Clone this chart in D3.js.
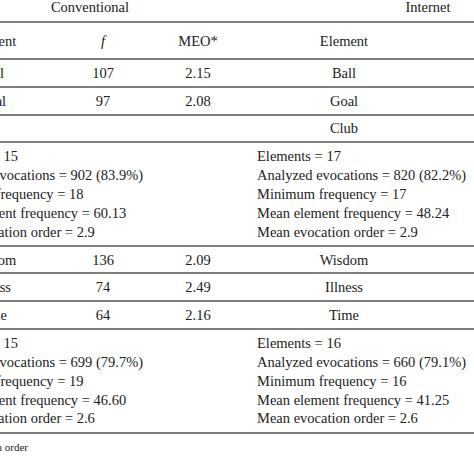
<!DOCTYPE html>
<html>
<head>
<meta charset="utf-8">
<script src="https://cdn.jsdelivr.net/npm/d3@7"></script>
<style>
  body { margin: 0; background: #fff; }
  svg { display: block; }
</style>
</head>
<body>
<svg id="chart"></svg>
<script>
// table contents (left part is cropped in the reference)
const groups = ["Conventional", "Internet"];
const headers = ["Element", "f", "MEO*", "Element"];

const block1Conv = [["Ball", "107", "2.15"], ["Goal", "97", "2.08"], ["", "", ""]];
const block1Net = ["Ball", "Goal", "Club"];
const stats1Conv = ["Elements = 15", "Analyzed evocations = 902 (83.9%)", "Minimum frequency = 18",
  "Mean element frequency = 60.13", "Mean evocation order = 2.9"];
const stats1Net = ["Elements = 17", "Analyzed evocations = 820 (82.2%)", "Minimum frequency = 17",
  "Mean element frequency = 48.24", "Mean evocation order = 2.9"];

const block2Conv = [["Wisdom", "136", "2.09"], ["Illness", "74", "2.49"], ["Time", "64", "2.16"]];
const block2Net = ["Wisdom", "Illness", "Time"];
const stats2Conv = ["Elements = 15", "Analyzed evocations = 699 (79.7%)", "Minimum frequency = 19",
  "Mean element frequency = 46.60", "Mean evocation order = 2.6"];
const stats2Net = ["Elements = 16", "Analyzed evocations = 660 (79.1%)", "Minimum frequency = 16",
  "Mean element frequency = 41.25", "Mean evocation order = 2.6"];

const footnote = "*MEO = mean evocation order";

const W = 474, H = 474;
const svg = d3.select("#chart").attr("width", W).attr("height", H)
  .style("font-family", "'Liberation Serif', 'Times New Roman', serif")
  .style("font-size", "14.5px");

// column centres
const col = d3.scaleOrdinal().domain(["el", "f", "meo", "el2"]).range([-8, 103, 198, 344]);
const statLeft = -66, statRight = 257;

const rowY = d3.scaleLinear().domain([0, 1]).range([0, 1]);
const lines = [22, 59, 87, 115, 142, 246, 273, 301, 329, 433];

svg.selectAll("line.rule").data(lines).enter().append("line")
  .attr("x1", 0).attr("x2", W)
  .attr("y1", d => rowY(d)).attr("y2", d => rowY(d))
  .attr("stroke", "#555").attr("stroke-width", 1.6);

let txt = (x, y, s, anchor) => svg.append("text")
  .attr("x", x).attr("y", rowY(y)).attr("dy", "0.35em")
  .attr("text-anchor", anchor || "middle").attr("fill", "#222").text(s);

txt(90, 7, groups[0]);
txt(428, 7, groups[1]);

txt(col("el"), 41, headers[0]);
txt(col("f"), 41, headers[1]).style("font-style", "italic");
txt(col("meo"), 41, headers[2]);
txt(col("el2"), 41, headers[3]);

let bandRows = (conv, net, ys) => {
  conv.forEach((r, i) => {
    txt(col("el"), ys[i], r[0]);
    txt(col("f"), ys[i], r[1]);
    txt(col("meo"), ys[i], r[2]);
  });
  net.forEach((n, i) => txt(col("el2"), ys[i], n));
};

let statRows = (conv, net, ys) => {
  conv.forEach((s, i) => txt(statLeft, ys[i], s, "start"));
  net.forEach((s, i) => txt(statRight, ys[i], s, "start"));
};

bandRows(block1Conv, block1Net, [73, 101, 128]);
statRows(stats1Conv, stats1Net, [156, 175, 194, 213, 232]);
bandRows(block2Conv, block2Net, [260, 287, 315]);
statRows(stats2Conv, stats2Net, [343, 362, 381, 400, 418]);

txt(28, 447, footnote, "end").style("font-size", "11px");
</script>
</body>
</html>
